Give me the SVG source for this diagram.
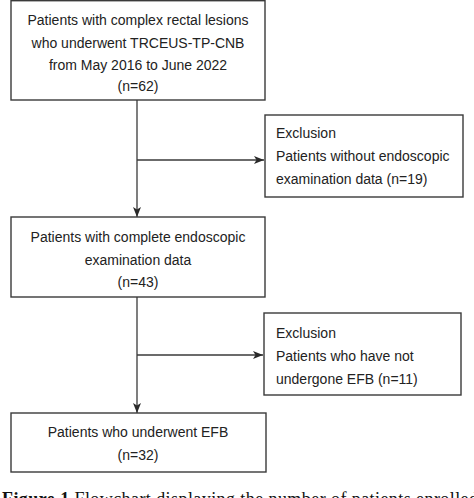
<svg xmlns="http://www.w3.org/2000/svg" width="474" height="498" viewBox="0 0 474 498">
<defs>
<style>
.box{fill:#fff;stroke:#3a3a3a;stroke-width:1.4}
.t{font-family:"Liberation Sans",Arial,Helvetica,sans-serif;font-size:14px;fill:#222}
.c{text-anchor:middle}
.ln{stroke:#3a3a3a;stroke-width:1.3;fill:none}
.cap{font-family:"Liberation Serif","Times New Roman",serif;font-size:18px;fill:#111}
</style>
<marker id="ah" viewBox="0 0 10 8" refX="10" refY="4" markerWidth="10" markerHeight="8" markerUnits="userSpaceOnUse" orient="auto">
<path d="M0,0 L10,4 L0,8 L2.5,4 z" fill="#2a2a2a"/>
</marker>
</defs>
<rect width="474" height="498" fill="#fff"/>
<g id="connectors">
<line class="ln" x1="137" y1="100" x2="137" y2="217" marker-end="url(#ah)"/>
<line class="ln" x1="137" y1="160" x2="264" y2="160" marker-end="url(#ah)"/>
<line class="ln" x1="137" y1="297" x2="137" y2="413" marker-end="url(#ah)"/>
<line class="ln" x1="137" y1="355" x2="263" y2="355" marker-end="url(#ah)"/>
</g>
<g id="node1">
<rect class="box" x="11" y="0.7" width="254" height="99.3"/>
<text class="t c" x="138" y="25">Patients with complex rectal lesions</text>
<text class="t c" x="138" y="47.5">who underwent TRCEUS-TP-CNB</text>
<text class="t c" x="138" y="69.5">from May 2016 to June 2022</text>
<text class="t c" x="138" y="91">(n=62)</text>
</g>
<g id="exclusion1">
<rect class="box" x="265" y="115" width="198" height="82"/>
<text class="t" x="276" y="138">Exclusion</text>
<text class="t" x="276" y="161">Patients without endoscopic</text>
<text class="t" x="276" y="184">examination data (n=19)</text>
</g>
<g id="node2">
<rect class="box" x="11" y="217" width="254" height="80"/>
<text class="t c" x="138" y="242">Patients with complete endoscopic</text>
<text class="t c" x="138" y="265">examination data</text>
<text class="t c" x="138" y="287">(n=43)</text>
</g>
<g id="exclusion2">
<rect class="box" x="264" y="313" width="197" height="82"/>
<text class="t" x="276" y="338">Exclusion</text>
<text class="t" x="276" y="361">Patients who have not</text>
<text class="t" x="276" y="384">undergone EFB (n=11)</text>
</g>
<g id="node3">
<rect class="box" x="11" y="413" width="255" height="59"/>
<text class="t c" x="138" y="437">Patients who underwent EFB</text>
<text class="t c" x="138" y="460">(n=32)</text>
</g>
<text class="cap" x="2" y="505" textLength="476" lengthAdjust="spacing"><tspan font-weight="bold">Figure 1</tspan> Flowchart displaying the number of patients enrolled</text>
</svg>
